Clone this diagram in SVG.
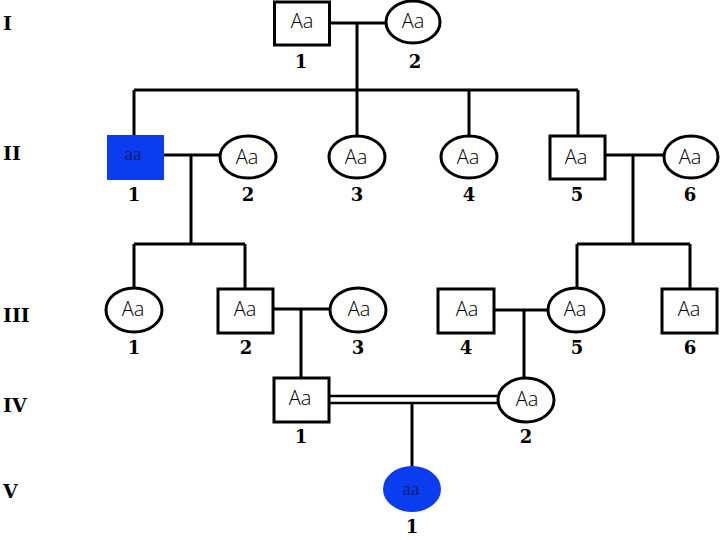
<svg xmlns="http://www.w3.org/2000/svg" width="720" height="540" viewBox="0 0 720 540">
<style>
.sq{fill:#fff;stroke:#000;stroke-width:3}
.ci{fill:#fff;stroke:#000;stroke-width:3}
.aff{fill:#0a3cf0;stroke:#0a3cf0;stroke-width:2}
.g{font-family:"Open Sans","Liberation Sans",sans-serif;font-weight:300;font-size:20px;text-anchor:middle;fill:#000}
.ga{font-family:"Liberation Serif",serif;font-size:19px;text-anchor:middle;fill:#0f1f70}
.n{font-family:"DejaVu Serif","Liberation Serif",serif;font-weight:bold;font-size:18px;text-anchor:middle;fill:#000}
.r{font-family:"DejaVu Serif","Liberation Serif",serif;font-weight:bold;font-size:19px;fill:#000}
.ln{stroke:#000;stroke-width:3;fill:none}
.dl{stroke:#000;stroke-width:2.5;fill:none}
</style>
<rect width="720" height="540" fill="#fff"/>
<g id="generations">
<text class="r" x="3" y="30">I</text>
<text class="r" x="3" y="160">II</text>
<text class="r" x="3" y="322">III</text>
<text class="r" x="3" y="412">IV</text>
<text class="r" x="3" y="498">V</text>
</g>
<g id="connectors">
<path class="ln" d="M330 23H386M357 23V90M134 90H578M134 90V135M357 90V135M469 90V135M578 90V135"/>
<path class="ln" d="M163 155H220M191 155V244M134 244H245M134 244V288M245 244V288"/>
<path class="ln" d="M606 155H663M633 155V244M577 244H690M577 244V288M690 244V288"/>
<path class="ln" d="M274 309H330M301 309V378"/>
<path class="ln" d="M495 310H548M524 310V378"/>
<path class="dl" d="M330 396H498M330 403H498"/>
<path class="ln" d="M412 403V467"/>
</g>
<g id="I-1"><rect class="sq" x="274.5" y="2" width="55" height="43"/><text class="g" x="302" y="28">Aa</text><text class="n" x="301" y="68">1</text></g>
<g id="I-2"><ellipse class="ci" cx="413" cy="22" rx="27" ry="21"/><text class="g" x="413" y="28">Aa</text><text class="n" x="415" y="68">2</text></g>
<g id="II-1"><rect class="aff" x="108" y="136" width="55" height="43"/><text class="ga" x="133" y="160">aa</text><text class="n" x="134" y="201">1</text></g>
<g id="II-2"><ellipse class="ci" cx="248" cy="157" rx="28" ry="21"/><text class="g" x="247" y="164">Aa</text><text class="n" x="248" y="201">2</text></g>
<g id="II-3"><ellipse class="ci" cx="357" cy="157" rx="28" ry="21"/><text class="g" x="356" y="164">Aa</text><text class="n" x="357" y="201">3</text></g>
<g id="II-4"><ellipse class="ci" cx="469" cy="157" rx="28" ry="21"/><text class="g" x="468" y="164">Aa</text><text class="n" x="469" y="201">4</text></g>
<g id="II-5"><rect class="sq" x="550" y="136" width="55" height="43"/><text class="g" x="576" y="164">Aa</text><text class="n" x="577" y="201">5</text></g>
<g id="II-6"><ellipse class="ci" cx="691" cy="157" rx="27" ry="21"/><text class="g" x="690" y="164">Aa</text><text class="n" x="690" y="201">6</text></g>
<g id="III-1"><ellipse class="ci" cx="134" cy="310" rx="28" ry="22"/><text class="g" x="133" y="316">Aa</text><text class="n" x="134" y="354">1</text></g>
<g id="III-2"><rect class="sq" x="218" y="289" width="55" height="44"/><text class="g" x="245" y="316">Aa</text><text class="n" x="246" y="354">2</text></g>
<g id="III-3"><ellipse class="ci" cx="358" cy="310" rx="28" ry="22"/><text class="g" x="359" y="316">Aa</text><text class="n" x="358" y="354">3</text></g>
<g id="III-4"><rect class="sq" x="438" y="289" width="56" height="44"/><text class="g" x="467" y="316">Aa</text><text class="n" x="466" y="354">4</text></g>
<g id="III-5"><ellipse class="ci" cx="576" cy="310" rx="28" ry="22"/><text class="g" x="575" y="316">Aa</text><text class="n" x="577" y="354">5</text></g>
<g id="III-6"><rect class="sq" x="662" y="289" width="55" height="44"/><text class="g" x="689" y="316">Aa</text><text class="n" x="690" y="354">6</text></g>
<g id="IV-1"><rect class="sq" x="274" y="378" width="55" height="44"/><text class="g" x="300" y="405">Aa</text><text class="n" x="301" y="443">1</text></g>
<g id="IV-2"><ellipse class="ci" cx="526" cy="400" rx="28" ry="22"/><text class="g" x="527" y="406">Aa</text><text class="n" x="526" y="443">2</text></g>
<g id="V-1"><ellipse class="aff" cx="412" cy="489" rx="28" ry="22"/><text class="ga" x="411" y="495">aa</text><text class="n" x="412" y="533">1</text></g>
</svg>
